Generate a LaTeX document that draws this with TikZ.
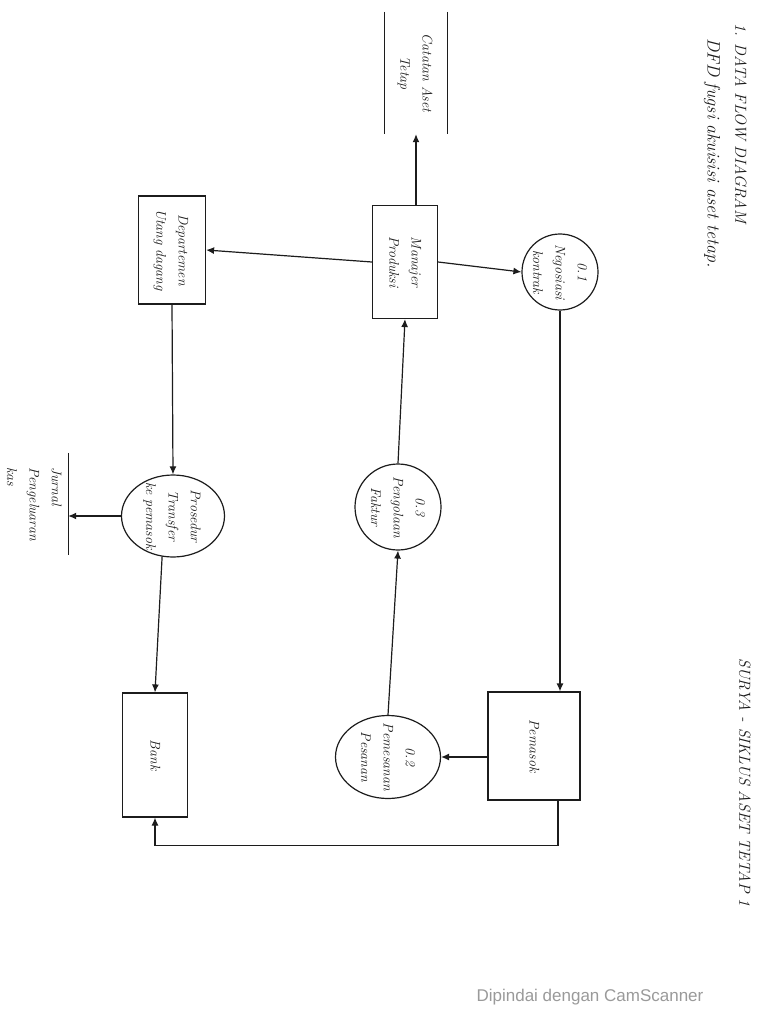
\documentclass[tikz,border=0pt]{standalone}
\usepackage{fontspec}
\usepackage{graphicx}
\usepackage{tikz}
\usetikzlibrary{shapes.geometric, arrows.meta, positioning, calc}
\newfontfamily\scanfont{Liberation Sans}
\definecolor{tinta}{HTML}{1C1C1C}
\definecolor{abu}{HTML}{9A9A9A}
% teks tegak (dibaca dari atas ke bawah), ukurannya tidak ikut menggeser node
\newcommand{\tegak}[2][c]{%
  \makebox[0pt]{\raisebox{\dimexpr(\depth-\height)/2\relax}[0pt][0pt]{%
    \rotatebox{-90}{\def\arraystretch{1.4}\begin{tabular}{@{}#1@{}}#2\end{tabular}}}}}
\tikzset{
  entitas/.style={rectangle, draw=tinta, line width=1.2pt, inner sep=0pt,
    text=tinta, font=\fontsize{14}{16}\selectfont\itshape},
  proses/.style={ellipse, draw=tinta, line width=1.2pt, inner sep=0pt,
    text=tinta, font=\fontsize{14}{16}\selectfont\itshape},
  simpan/.style={rectangle, inner sep=0pt, text=tinta,
    font=\fontsize{14}{16}\selectfont\itshape},
  panah/.style={-{Latex[length=8pt, width=7pt]}, line width=1.2pt, tinta}
}

\begin{document}
\begin{tikzpicture}[x=1pt, y=-1pt,
  judul/.style={rotate=-90, anchor=west, text=tinta,
    font=\fontsize{16}{18}\selectfont\itshape},
  garis/.style={tinta, line width=1.2pt}]

  \useasboundingbox[fill=white] (0,0) rectangle (768,1024);

  % --- Judul ---
  \node[judul] (judul1) at (741,20) {1. DATA FLOW DIAGRAM};
  \node[judul, font=\fontsize{18}{20}\selectfont\itshape] (judul2) at (712,35)
    {DFD fugsi akuisisi aset tetap.};
  \node[judul] (judul3) at (745,655) {SURYA - SIKLUS ASET TETAP 1};

  % --- Entitas ---
  \node[entitas, minimum width=65pt, minimum height=113pt] (manajer) at (405,262)
    {\tegak{Manajer\\Produksi}};
  \node[entitas, minimum width=67pt, minimum height=108pt] (departemen) at (172,250)
    {\tegak{Departemen\\Utang dagang}};
  \node[entitas, minimum width=92pt, minimum height=108pt] (pemasok) at (534,746)
    {\tegak{Pemasok}};
  \node[entitas, minimum width=65pt, minimum height=124pt] (bank) at (155,755)
    {\tegak{Bank}};

  % --- Proses ---
  \node[proses, minimum width=76pt, minimum height=76pt] (negosiasi) at (560,272)
    {\tegak{0.1\\Negosiasi\\kontrak}};
  \node[proses, minimum width=86pt, minimum height=86pt] (pengolaan) at (398,507)
    {\tegak{0.3\\Pengolaan\\Faktur}};
  \node[proses, minimum width=105pt, minimum height=83pt] (penerimaan) at (388,757)
    {\tegak{0.2\\Pemesanan\\Pesanan}};
  \node[proses, minimum width=103pt, minimum height=82pt] (prosedur) at (173,516)
    {\tegak{Prosedur\\Transfer\\ke pemasok}};

  % --- Simpanan data ---
  \node[simpan, minimum width=62pt, minimum height=122pt] (catatan) at (416,73)
    {\tegak{Catatan Aset\\Tetap}};
  \draw[garis] (catatan.north west) -- (catatan.south west);
  \draw[garis] (catatan.north east) -- (catatan.south east);
  \node[simpan, minimum width=68pt, minimum height=102pt] (jurnal) at (34,504)
    {\tegak[l]{Jurnal\\Pengeluaran\\kas}};
  \draw[garis] (jurnal.north east) -- (jurnal.south east);

  % --- Aliran data ---
  \draw[panah] (manajer.north -| catatan.south) -- (catatan.south);
  \draw[panah] (manajer.east) -- (negosiasi.west);
  \draw[panah] (manajer.west) -- (departemen.east);
  \draw[panah] (departemen.south) -- (prosedur.north);
  \draw[panah] (prosedur.west) -- (prosedur.west -| jurnal.east);
  \draw[panah] (prosedur.-105) -- (bank.north);
  \draw[panah] (negosiasi.south) -- (negosiasi.south |- pemasok.north);
  \draw[panah] (penerimaan.east -| pemasok.west) -- (penerimaan.east);
  \draw[panah] (penerimaan.north) -- (pengolaan.south);
  \draw[panah] (pengolaan.north) -- (manajer.south);
  \draw[panah] ([xshift=24pt]pemasok.south) -- ++(0,45) -| (bank.south);

  \node[font=\scanfont\fontsize{17}{20}\selectfont, text=abu] (scan) at (590,997)
    {Dipindai dengan CamScanner};

\end{tikzpicture}
\end{document}
